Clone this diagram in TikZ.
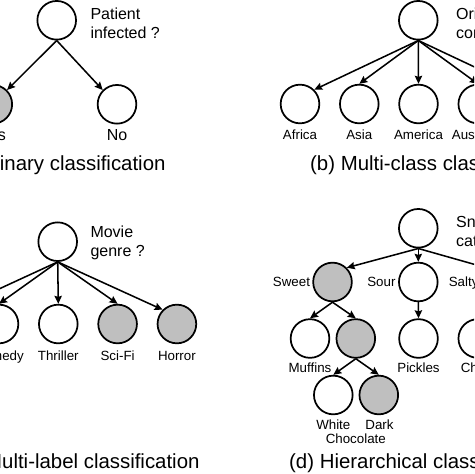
\documentclass[tikz,border=0pt]{standalone}
\usepackage{fontspec}
\setmainfont{Liberation Sans}
\usetikzlibrary{arrows.meta}

\definecolor{hitgray}{RGB}{191,191,191}

\tikzset{every picture/.style={line width=0.75pt}}
\tikzset{
  cls/.style={circle, draw, line width=1.3pt, minimum size=29pt, inner sep=0pt},
  hit/.style={cls, fill=hitgray},
  arr/.style={line width=1.15pt, -{Stealth[length=6pt,width=5.5pt,inset=0.8pt]}},
  qtext/.style={font=\fontsize{12}{14.25}\selectfont, align=left, anchor=base west, inner sep=0pt},
  bigl/.style={font=\fontsize{12}{14}\selectfont, anchor=base, inner sep=0pt},
  smal/.style={font=\fontsize{10}{10.5}\selectfont, anchor=base, inner sep=0pt},
  capt/.style={font=\fontsize{15.3}{18}\selectfont, inner sep=0pt}
}

\begin{document}
\begin{tikzpicture}[x=0.75pt,y=0.75pt,yscale=-1,xscale=1]
	\useasboundingbox (0,0) rectangle (474,474);
	\clip (0,0) rectangle (474,474);

	% (a) binary
	%Shape: Circle
	\draw (56.7,20.3) node [cls] (a0) {};
	\draw (-7.2,104.3) node [hit] (aYes) {};
	\draw (117,104.3) node [cls] (aNo) {};
	% Text Node
	\draw (90,38.3) node [qtext] (aQ) {Patient\\infected ?};
	\draw (-7.2,141) node [bigl] (lYes) {Yes};
	\draw (117,141) node [bigl] (lNo) {No};
	\draw (166,171) node [capt, anchor=base east] (capA) {(a) Binary classification};
	%Straight Lines
	\draw [arr] (a0.south) -- (aYes.north east);
	\draw [arr] (a0.south) -- (aNo.north west);

	% (b) multi-class
	%Shape: Circle
	\draw (418.3,20.3) node [cls] (b0) {};
	\draw (300,104) node [cls] (bAfr) {};
	\draw (359.3,104) node [cls] (bAsi) {};
	\draw (418.5,104) node [cls] (bAme) {};
	\draw (477.8,104) node [cls] (bAus) {};
	\draw (537.1,104) node [cls] (bEur) {};
	% Text Node
	\draw (455.7,38.3) node [qtext] (bQ) {Origin\\continent ?};
	\draw (300,139) node [smal] (lAfr) {Africa};
	\draw (359.3,139) node [smal] (lAsi) {Asia};
	\draw (418.5,139) node [smal] (lAme) {America};
	\draw (477.8,139) node [smal] (lAus) {Australia};
	\draw (309.7,171) node [capt, anchor=base west] (capB) {(b) Multi-class classification};
	%Straight Lines
	\draw [arr] (b0.south) -- (bAfr.north east);
	\draw [arr] (b0.south) -- (bAsi.north);
	\draw [arr] (b0.south) -- (bAme.north);
	\draw [arr] (b0.south) -- (bAus.north);
	\draw [arr] (b0.south) -- (bEur.north west);

	% (c) multi-label
	%Shape: Circle
	\draw (57.7,241.7) node [cls] (c0) {};
	\draw (-60.3,324) node [cls] (cAct) {};
	\draw (-1,324) node [cls] (cCom) {};
	\draw (58.3,324) node [cls] (cThr) {};
	\draw (117.6,324) node [hit] (cSci) {};
	\draw (176.9,324) node [hit] (cHor) {};
	% Text Node
	\draw (90,256) node [qtext] (cQ) {Movie\\genre ?};
	\draw (-1,360) node [smal] (lCom) {Comedy};
	\draw (58.3,360) node [smal] (lThr) {Thriller};
	\draw (117.6,360) node [smal] (lSci) {Sci-Fi};
	\draw (176.9,360) node [smal] (lHor) {Horror};
	\draw (200,468.5) node [capt, anchor=base east] (capC) {(c) Multi-label classification};
	%Straight Lines
	\draw [arr] (c0.south) -- (cAct.north east);
	\draw [arr] (c0.south) -- (cCom.north);
	\draw [arr] (c0.south) -- (cThr.north);
	\draw [arr] (c0.south) -- (cSci.north);
	\draw [arr] (c0.south) -- (cHor.north west);

	% (d) hierarchical
	%Shape: Circle
	\draw (418.3,228.3) node [cls] (d0) {};
	\draw (332.5,282) node [hit] (dSwe) {};
	\draw (418.3,282) node [cls] (dSou) {};
	\draw (500.5,282) node [cls] (dSal) {};
	\draw (310,338.5) node [cls] (dMuf) {};
	\draw (355.8,338.5) node [hit] (dCho) {};
	\draw (418.5,338.5) node [cls] (dPic) {};
	\draw (477.8,338.5) node [cls] (dChi) {};
	\draw (333.3,395) node [cls] (dWhi) {};
	\draw (378.8,395) node [hit] (dDar) {};
	% Text Node
	\draw (455.7,246) node [qtext] (dQ) {Snack\\category ?};
	\draw (310.5,286.7) node [smal, anchor=base east] (lSwe) {Sweet};
	\draw (396,286.7) node [smal, anchor=base east] (lSou) {Sour};
	\draw (448.3,286.7) node [smal, anchor=base west] (lSal) {Salty};
	\draw (310,372.7) node [smal] (lMuf) {Muffins};
	\draw (418.5,372.7) node [smal] (lPic) {Pickles};
	\draw (477.8,372.7) node [smal] (lChi) {Chips};
	\draw (333.3,429.3) node [smal] (lWhi) {White};
	\draw (379.5,429.3) node [smal] (lDar) {Dark};
	\draw (355.8,443.3) node [smal] (lCho) {Chocolate};
	\draw (288.7,468.5) node [capt, anchor=base west] (capD) {(d) Hierarchical classification};
	%Straight Lines
	\draw [arr] (d0.south) -- (dSwe.north east);
	\draw [arr] (d0.south) -- (dSou.north);
	\draw [arr] (d0.south) -- (dSal.north west);
	\draw [arr] (dSwe.south) -- (dMuf.north);
	\draw [arr] (dSwe.south) -- (dCho.north);
	\draw [arr] (dCho.south) -- (dWhi.north);
	\draw [arr] (dCho.south) -- (dDar.north);
	\draw [arr] (dSou.south) -- (dPic.north);
	\draw [arr] (dSal.south) -- (dChi.north);

\end{tikzpicture}
\end{document}
